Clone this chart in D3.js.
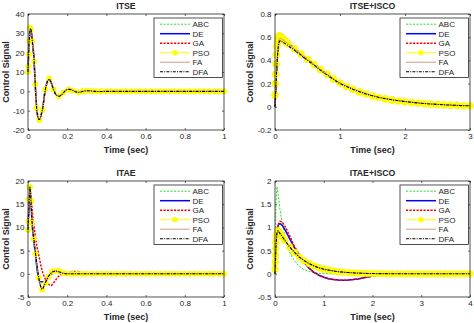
<!DOCTYPE html>
<html><head><meta charset="utf-8">
<script src="https://cdn.jsdelivr.net/npm/d3@7"></script>
<style>
body{margin:0;background:#fff}
svg{display:block}
text{font-family:"Liberation Sans",Arial,sans-serif;fill:#262626}
</style>
</head><body>
<svg id="c" width="474" height="323"></svg>
<script>
// ---------- legend / series names ----------
const seriesNames = ["ABC","DE","GA","PSO","FA","DFA"];

// ---------- Panel 1: ITSE ----------
const itseTime = [0,0.005,0.01,0.015,0.02,0.025,0.03,0.035,0.04,0.045,0.05,0.055,0.06,0.065,0.07,0.075,0.08,0.085,0.09,0.1,0.11,0.12,0.13,0.14,0.15,0.16,0.17,0.18,0.19,0.2,0.21,0.22,0.23,0.24,0.25,0.26,0.27,0.28,0.29,0.3,0.31,0.32,0.34,0.36,0.4,0.5,0.6,0.7,0.8,0.9,1.0];
const itseABC = [10,24.5,32.5,32.8,28.2,23,17.8,7.8,-2.8,-10.2,-13.2,-14.8,-14.6,-13,-10.8,-8.8,-4.8,-1,2,5.6,6.5,4.1,1.1,-1.3,-2.5,-2.7,-2,-0.8,0.3,0.9,1.1,0.9,0.4,-0.1,-0.4,-0.5,-0.3,0,0.2,0.3,0.3,0.2,0,-0.1,0,0,0,0,0,0,0];
const itseDE  = [10,24,32,32.5,28,23,18,8,-2.5,-10,-13,-14.6,-14.5,-13,-11,-9,-5,-1.2,1.8,5.5,6.4,4,1,-1.3,-2.4,-2.6,-1.9,-0.8,0.3,0.9,1.1,0.9,0.4,-0.1,-0.4,-0.5,-0.3,0,0.2,0.3,0.3,0.2,0,-0.1,0,0,0,0,0,0,0];
const itseGA  = [10,24.2,32.2,32.6,28.1,23.1,18.1,8.1,-2.4,-9.9,-13,-14.5,-14.5,-13.1,-11.1,-9.1,-5.1,-1.3,1.7,5.5,6.4,4.1,1.1,-1.2,-2.4,-2.6,-1.9,-0.8,0.3,0.9,1.1,0.9,0.4,-0.1,-0.4,-0.5,-0.3,0,0.2,0.3,0.3,0.2,0,-0.1,0,0,0,0,0,0,0];
const itseFA  = [10,24,32,32.5,28,23,18,8,-2.5,-10,-13,-14.6,-14.5,-13,-11,-9,-5,-1.2,1.8,5.5,6.4,4,1,-1.3,-2.4,-2.6,-1.9,-0.8,0.3,0.9,1.1,0.9,0.4,-0.1,-0.4,-0.5,-0.3,0,0.2,0.3,0.3,0.2,0,-0.1,0,0,0,0,0,0,0];
const itseDFA = [10,24,32,32.5,28,23,18,8,-2.5,-10,-13,-14.6,-14.5,-13,-11,-9,-5,-1.2,1.8,5.5,6.4,4,1,-1.3,-2.4,-2.6,-1.9,-0.8,0.3,0.9,1.1,0.9,0.4,-0.1,-0.4,-0.5,-0.3,0,0.2,0.3,0.3,0.2,0,-0.1,0,0,0,0,0,0,0];
const itsePSOTime = [0,0.002,0.004,0.006,0.01,0.014,0.022,0.032,0.037,0.043,0.058,0.074,0.088,0.108,0.13,0.157,0.18,0.207,0.23,0.258,0.28,0.3,0.325,0.35,0.375,0.4,0.425,0.45,0.475,0.5,0.525,0.55,0.575,0.6,0.625,0.65,0.675,0.7,0.725,0.75,0.775,0.8,0.825,0.85,0.875,0.9,0.925,0.95,0.975,1.0];
const itsePSO = [10,13,19,26,33,32,26,15.5,3.5,-8.7,-14.8,-9.6,1,6.6,1,-2.6,-0.6,1,0.3,-0.5,0,0.3,0.1,0,0,0,0,0,0,0,0,0,0,0,0,0,0,0,0,0,0,0,0,0,0,0,0,0,0,0];
const itseXTicks = [0,0.2,0.4,0.6,0.8,1];
const itseYTicks = [-20,-10,0,10,20,30,40];

// ---------- Panel 2: ITSE+ISCO ----------
const itseIscoTime = [0,0.01,0.02,0.03,0.04,0.05,0.06,0.07,0.08,0.1,0.12,0.15,0.2,0.25,0.3,0.4,0.5,0.6,0.7,0.8,0.9,1.0,1.2,1.4,1.6,1.8,2.0,2.2,2.4,2.6,2.8,3.0];
const itseIscoABC = [0,0.13,0.26,0.37,0.46,0.52,0.555,0.57,0.572,0.567,0.56,0.549,0.53,0.51,0.49,0.447,0.402,0.36,0.316,0.276,0.236,0.201,0.151,0.11,0.08,0.06,0.045,0.033,0.024,0.017,0.012,0.008];
const itseIscoDE  = [0,0.12,0.25,0.36,0.45,0.51,0.55,0.565,0.57,0.565,0.558,0.547,0.528,0.508,0.488,0.445,0.4,0.36,0.315,0.275,0.235,0.2,0.15,0.11,0.08,0.06,0.045,0.033,0.024,0.017,0.012,0.008];
const itseIscoGA  = [0,0.14,0.28,0.4,0.5,0.56,0.59,0.6,0.6,0.595,0.588,0.575,0.553,0.53,0.508,0.462,0.415,0.372,0.326,0.285,0.244,0.208,0.156,0.115,0.084,0.062,0.047,0.034,0.025,0.018,0.013,0.009];
const itseIscoFA  = [0,0.13,0.27,0.39,0.49,0.55,0.58,0.59,0.59,0.585,0.578,0.566,0.545,0.523,0.5,0.456,0.41,0.367,0.322,0.281,0.24,0.205,0.154,0.113,0.082,0.061,0.046,0.034,0.025,0.018,0.013,0.009];
const itseIscoDFA = [0,0.12,0.25,0.36,0.45,0.51,0.55,0.565,0.57,0.565,0.558,0.547,0.528,0.508,0.488,0.445,0.4,0.36,0.315,0.275,0.235,0.2,0.15,0.11,0.08,0.06,0.045,0.033,0.024,0.017,0.012,0.008];
const itseIscoPSOTime = [0,0.005,0.01,0.015,0.02,0.03,0.04,0.05,0.06,0.07,0.08,0.09,0.1,0.12,0.14,0.16,0.18,0.2,0.3,0.4,0.5,0.6,0.7,0.8,0.9,1.0,1.1,1.2,1.3,1.4,1.5,1.6,1.7,1.8,1.9,2.0,2.1,2.2,2.3,2.4,2.5,2.6,2.7,2.8,2.9,3.0];
const itseIscoPSO = [0.1,0.2,0.28,0.37,0.45,0.52,0.57,0.6,0.61,0.61,0.605,0.6,0.595,0.585,0.575,0.565,0.555,0.545,0.5,0.455,0.41,0.365,0.32,0.28,0.24,0.205,0.175,0.15,0.128,0.11,0.094,0.08,0.068,0.058,0.05,0.043,0.037,0.031,0.027,0.023,0.019,0.016,0.014,0.012,0.01,0.008];
const itseIscoXTicks = [0,1,2,3];
const itseIscoYTicks = [-0.2,0,0.2,0.4,0.6,0.8];

// ---------- Panel 3: ITAE ----------
const itaeTime = [0,0.005,0.01,0.015,0.02,0.025,0.03,0.035,0.04,0.045,0.05,0.055,0.06,0.065,0.07,0.075,0.08,0.09,0.1,0.11,0.12,0.13,0.14,0.15,0.16,0.17,0.18,0.19,0.2,0.21,0.22,0.23,0.24,0.25,0.26,0.27,0.28,0.3,0.4,0.5,0.6,0.7,0.8,0.9,1.0];
const itaeABC = [9.5,15.5,19,16.2,11.8,9.2,7.6,5.6,3.8,2.1,0.5,-1,-2.1,-2.9,-3.2,-3.1,-2.6,-1.6,-0.7,-0.1,0.3,0.5,0.5,0.45,0.35,0.2,0.1,0.03,0,0,0,0,0,0,0,0,0,0,0,0,0,0,0,0,0];
const itaeDE  = [9.5,15,18.5,15.8,11.2,8.7,7,5,3.2,1.5,-0.2,-1.3,-1.7,-1.7,-1.7,-1.7,-1.7,-1.6,-1.1,-0.5,0,0.3,0.4,0.4,0.3,0.2,0.1,0.03,0,0,0,0,0,0,0,0,0,0,0,0,0,0,0,0,0];
const itaeGA  = [9.5,15,18.5,17,14.5,12,10.5,8.8,7.2,6,5,4,3,2,1.1,0.3,-0.3,-1.3,-2,-2.4,-2.5,-2,-1.4,-0.8,-0.4,-0.15,0,0.05,0.1,0.3,0.45,0.5,0.5,0.5,0.45,0.1,0,0,0,0,0,0,0,0,0];
const itaeFA  = [9.5,15.2,18.7,16.1,11.6,9.1,7.5,5.5,3.8,2.2,0.6,-0.9,-2,-2.8,-3.2,-3.2,-2.7,-1.7,-0.8,-0.2,0.3,0.5,0.6,0.5,0.4,0.25,0.1,0.03,0,0,0,0,0,0,0,0,0,0,0,0,0,0,0,0,0];
const itaeDFA = [9.5,15,18.7,16,11.5,9,7.5,5.5,3.8,2.2,0.6,-0.9,-2,-2.8,-3.3,-3.3,-2.8,-1.8,-0.9,-0.2,0.3,0.5,0.6,0.55,0.4,0.25,0.1,0.03,0,0,0,0,0,0,0,0,0,0,0,0,0,0,0,0,0];
const itaePSOTime = [0,0.002,0.004,0.007,0.01,0.017,0.02,0.029,0.038,0.055,0.072,0.09,0.105,0.123,0.14,0.158,0.18,0.2,0.225,0.25,0.275,0.3,0.325,0.35,0.375,0.4,0.425,0.45,0.475,0.5,0.525,0.55,0.575,0.6,0.625,0.65,0.675,0.7,0.725,0.75,0.775,0.8,0.825,0.85,0.875,0.9,0.925,0.95,0.975,1.0];
const itaePSO = [9.5,11.3,16,18.5,18.7,15.7,11,7.5,4.3,-0.9,-3.4,-2,-0.6,0.5,0.6,0.6,0.2,0,0,0,0,0,0,0,0,0,0,0,0,0,0,0,0,0,0,0,0,0,0,0,0,0,0,0,0,0,0,0,0,0];
const itaeXTicks = [0,0.2,0.4,0.6,0.8,1];
const itaeYTicks = [-5,0,5,10,15,20];

// ---------- Panel 4: ITAE+ISCO ----------
const itaeIscoTime = [0,0.02,0.04,0.06,0.08,0.1,0.12,0.15,0.2,0.25,0.3,0.35,0.4,0.5,0.6,0.7,0.8,0.9,1.0,1.1,1.2,1.3,1.4,1.5,1.6,1.7,1.8,1.9,2.0,2.1,2.2,2.4,2.6,3.0,3.5,4.0];
const itaeIscoABC = [0,1.55,1.88,1.75,1.58,1.4,1.27,1.1,0.82,0.62,0.47,0.36,0.28,0.16,0.09,0.05,0.025,0.012,0.005,0.002,0,0,0,0,0,0,0,0,0,0,0,0,0,0,0,0];
const itaeIscoDE  = [0,0.6,0.9,1.03,1.07,1.08,1.07,1.04,0.96,0.86,0.76,0.66,0.56,0.39,0.24,0.12,0.03,-0.03,-0.075,-0.105,-0.125,-0.135,-0.14,-0.135,-0.125,-0.11,-0.09,-0.07,-0.05,-0.03,-0.015,0,0,0,0,0];
const itaeIscoGA  = [0,0.55,0.88,1.04,1.1,1.125,1.13,1.11,1.03,0.93,0.82,0.7,0.59,0.41,0.25,0.12,0.03,-0.03,-0.075,-0.105,-0.125,-0.135,-0.14,-0.135,-0.125,-0.11,-0.09,-0.07,-0.05,-0.03,-0.015,0,0,0,0,0];
const itaeIscoFA  = [0,0.58,0.87,0.93,0.91,0.88,0.85,0.81,0.73,0.66,0.59,0.53,0.47,0.37,0.29,0.22,0.17,0.13,0.1,0.08,0.06,0.045,0.035,0.027,0.02,0.015,0.011,0.008,0.006,0.004,0.003,0.002,0.001,0,0,0];
const itaeIscoDFA = [0,0.6,0.88,0.93,0.9,0.87,0.84,0.8,0.72,0.65,0.58,0.52,0.46,0.36,0.28,0.22,0.17,0.13,0.1,0.08,0.06,0.045,0.035,0.027,0.02,0.015,0.011,0.008,0.006,0.004,0.003,0.002,0.001,0,0,0];
const itaeIscoPSOTime = [0,0.005,0.01,0.015,0.02,0.03,0.04,0.06,0.08,0.1,0.15,0.2,0.3,0.4,0.5,0.6,0.7,0.8,0.9,1.0,1.1,1.2,1.3,1.4,1.5,1.6,1.7,1.8,1.9,2.0,2.1,2.2,2.3,2.4,2.5,2.6,2.7,2.8,2.9,3.0,3.1,3.2,3.3,3.4,3.5,3.6,3.7,3.8,3.9,4.0];
const itaeIscoPSO = [0.1,0.25,0.4,0.55,0.68,0.8,0.88,0.93,0.9,0.87,0.8,0.72,0.58,0.46,0.36,0.28,0.22,0.17,0.13,0.1,0.08,0.06,0.045,0.035,0.027,0.02,0.015,0.011,0.008,0.006,0.004,0.003,0.002,0,0,0,0,0,0,0,0,0,0,0,0,0,0,0,0,0];
const itaeIscoXTicks = [0,1,2,3,4];
const itaeIscoYTicks = [-0.5,0,0.5,1,1.5,2];

// ---------- styles ----------
const styleOf = {
  ABC: {color:"#2ee32e", width:1,   dash:"2.2,1.3"},
  DE:  {color:"#0000ff", width:1.5, dash:null},
  GA:  {color:"#ff0000", width:1.5, dash:"2.2,1.3"},
  PSO: {color:"#ffff00", width:1,   dash:null},
  FA:  {color:"#d09a80", width:1,   dash:null},
  DFA: {color:"#000000", width:1.1, dash:"3,1.2,1,1.2"}
};

const panels = [
  {title:"ITSE", box:[28,224,14,130], xd:[0,1], yd:[-20,40], xt:itseXTicks, yt:itseYTicks, ylabX:5.5, psoR:2.8,
   data:{ABC:[itseTime,itseABC],DE:[itseTime,itseDE],GA:[itseTime,itseGA],PSO:[itsePSOTime,itsePSO],FA:[itseTime,itseFA],DFA:[itseTime,itseDFA]}},
  {title:"ITSE+ISCO", box:[275,470,14,130], xd:[0,3], yd:[-0.2,0.8], xt:itseIscoXTicks, yt:itseIscoYTicks, ylabX:249.5, psoR:3.6,
   data:{ABC:[itseIscoTime,itseIscoABC],DE:[itseIscoTime,itseIscoDE],GA:[itseIscoTime,itseIscoGA],PSO:[itseIscoPSOTime,itseIscoPSO],FA:[itseIscoTime,itseIscoFA],DFA:[itseIscoTime,itseIscoDFA]}},
  {title:"ITAE", box:[28,224,181,297], xd:[0,1], yd:[-5,20], xt:itaeXTicks, yt:itaeYTicks, ylabX:5.5, psoR:2.8,
   data:{ABC:[itaeTime,itaeABC],DE:[itaeTime,itaeDE],GA:[itaeTime,itaeGA],PSO:[itaePSOTime,itaePSO],FA:[itaeTime,itaeFA],DFA:[itaeTime,itaeDFA]}},
  {title:"ITAE+ISCO", box:[275,470,181,297], xd:[0,4], yd:[-0.5,2], xt:itaeIscoXTicks, yt:itaeIscoYTicks, ylabX:249.5, psoR:3.4,
   data:{ABC:[itaeIscoTime,itaeIscoABC],DE:[itaeIscoTime,itaeIscoDE],GA:[itaeIscoTime,itaeIscoGA],PSO:[itaeIscoPSOTime,itaeIscoPSO],FA:[itaeIscoTime,itaeIscoFA],DFA:[itaeIscoTime,itaeIscoDFA]}}
];

const svg = d3.select("#c");
const AX = "#262626";
const fmt = d => String(d);

panels.forEach(p => {
  const [x0,x1,y0,y1] = p.box;
  const x = d3.scaleLinear().domain(p.xd).range([x0,x1]);
  const y = d3.scaleLinear().domain(p.yd).range([y1,y0]);
  const g = svg.append("g");

  g.append("rect").attr("x",x0).attr("y",y0).attr("width",x1-x0).attr("height",y1-y0).attr("fill","#fff");

  // axes (ticks inward on all four sides)
  const bottom = g.append("g").attr("transform",`translate(0,${y1})`)
    .call(d3.axisBottom(x).tickValues(p.xt).tickFormat(fmt).tickSizeInner(-2).tickSizeOuter(0).tickPadding(3.5));
  const top = g.append("g").attr("transform",`translate(0,${y0})`)
    .call(d3.axisTop(x).tickValues(p.xt).tickFormat("").tickSizeInner(-2).tickSizeOuter(0));
  const left = g.append("g").attr("transform",`translate(${x0},0)`)
    .call(d3.axisLeft(y).tickValues(p.yt).tickFormat(fmt).tickSizeInner(-2).tickSizeOuter(0).tickPadding(3.5));
  const right = g.append("g").attr("transform",`translate(${x1},0)`)
    .call(d3.axisRight(y).tickValues(p.yt).tickFormat("").tickSizeInner(-2).tickSizeOuter(0));
  [bottom,top,left,right].forEach(a => {
    a.select(".domain").remove();
    a.selectAll("line").attr("stroke",AX).attr("stroke-width",0.7);
    a.selectAll("text").attr("font-size","8px").attr("fill",AX).style("font-family","'Liberation Sans',Arial,sans-serif");
  });

  // series
  const line = d3.line().x(d => x(d[0])).y(d => y(d[1]));
  seriesNames.forEach(name => {
    const st = styleOf[name];
    const pts = d3.zip(p.data[name][0], p.data[name][1]);
    g.append("path").datum(pts).attr("d",line)
      .attr("fill","none").attr("stroke",st.color).attr("stroke-width",st.width)
      .attr("stroke-dasharray",st.dash).attr("stroke-linejoin","round");
    if (name === "PSO") {
      g.append("g").selectAll("circle").data(pts).join("circle")
        .attr("cx",d => x(d[0])).attr("cy",d => y(d[1])).attr("r",p.psoR)
        .attr("fill","#ffff00").attr("stroke","#f2f200").attr("stroke-width",0.4);
    }
  });

  // box
  g.append("rect").attr("x",x0).attr("y",y0).attr("width",x1-x0).attr("height",y1-y0)
    .attr("fill","none").attr("stroke",AX).attr("stroke-width",0.8);

  // title and labels
  g.append("text").attr("x",(x0+x1)/2).attr("y",y0-5).attr("text-anchor","middle")
    .attr("font-size","8.7px").attr("font-weight","bold").text(p.title);
  g.append("text").attr("x",(x0+x1)/2).attr("y",y1+22.5).attr("text-anchor","middle")
    .attr("font-size","9px").attr("font-weight","bold").text("Time (sec)");
  g.append("text").attr("transform",`translate(${p.ylabX},${(y0+y1)/2}) rotate(-90)`)
    .attr("text-anchor","middle").attr("dy","0.35em")
    .attr("font-size","9px").attr("font-weight","bold").text("Control Signal");

  // legend
  const lx = x1-70, ly = y0+4, lw = 68.5, lh = 59.5;
  const lg = g.append("g");
  lg.append("rect").attr("x",lx).attr("y",ly).attr("width",lw).attr("height",lh)
    .attr("fill","#fff").attr("stroke",AX).attr("stroke-width",0.8);
  seriesNames.forEach((name,i) => {
    const st = styleOf[name];
    const yy = ly + 6.2 + 9.5*i;
    lg.append("line").attr("x1",lx+6).attr("x2",lx+36).attr("y1",yy).attr("y2",yy)
      .attr("stroke",st.color).attr("stroke-width",st.width).attr("stroke-dasharray",st.dash);
    if (name === "PSO") {
      lg.append("circle").attr("cx",lx+21).attr("cy",yy).attr("r",2.6).attr("fill","#ffff00");
    }
    lg.append("text").attr("x",lx+38.5).attr("y",yy).attr("dy","0.35em")
      .attr("font-size","8px").text(name);
  });
});
</script>
</body></html>
